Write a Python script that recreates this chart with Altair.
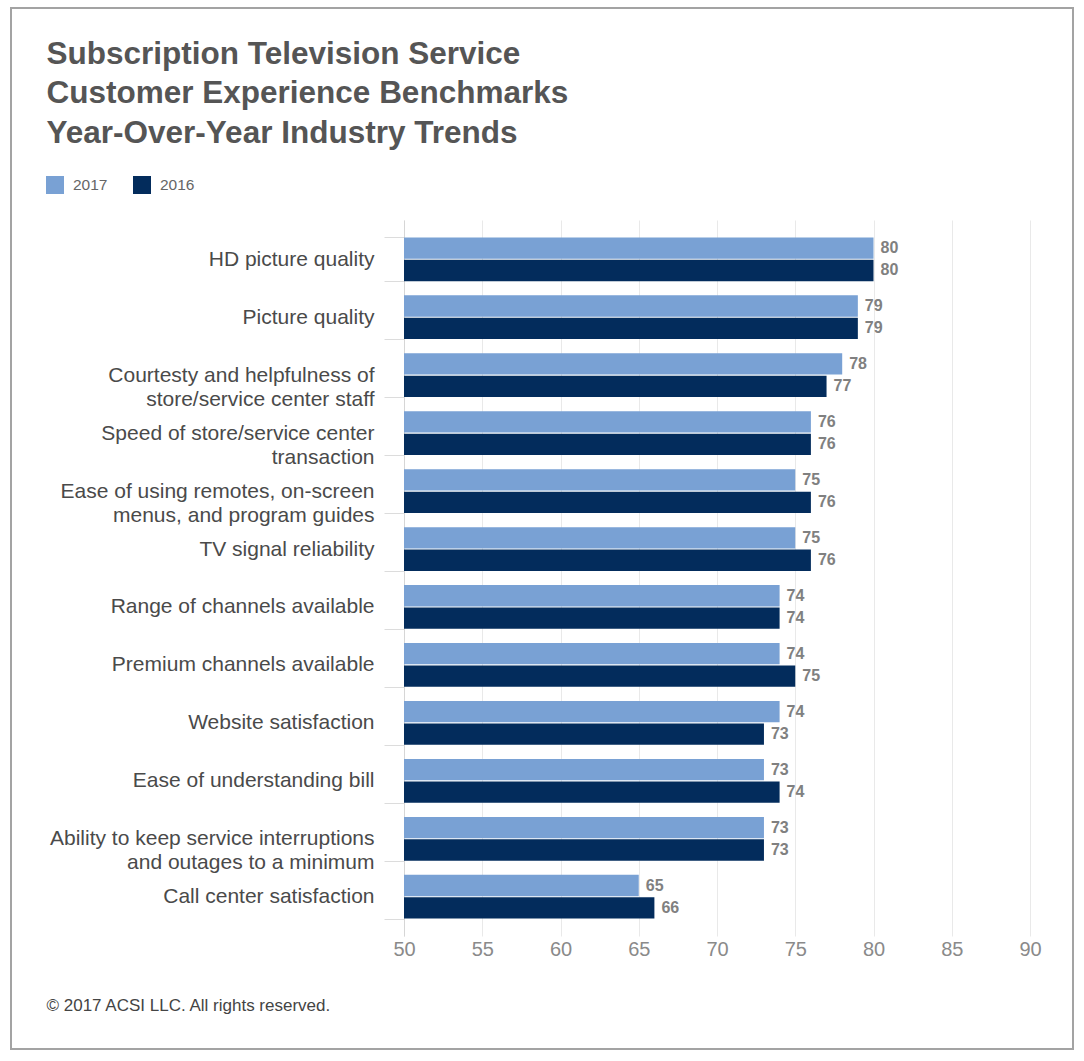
import altair as alt
import pandas as pd

# Attribute names (line breaks mark where the axis label wraps)
categories = [
    "HD picture quality",
    "Picture quality",
    "Courtesty and helpfulness of\nstore/service center staff",
    "Speed of store/service center\ntransaction",
    "Ease of using remotes, on-screen\nmenus, and program guides",
    "TV signal reliability",
    "Range of channels available",
    "Premium channels available",
    "Website satisfaction",
    "Ease of understanding bill",
    "Ability to keep service interruptions\nand outages to a minimum",
    "Call center satisfaction",
]
years = ["2017", "2016"]
scores_2017 = [80, 79, 78, 76, 75, 75, 74, 74, 74, 73, 73, 65]
scores_2016 = [80, 79, 77, 76, 76, 76, 74, 75, 73, 74, 73, 66]
x_ticks = [50, 55, 60, 65, 70, 75, 80, 85, 90]
title_lines = [
    "Subscription Television Service",
    "Customer Experience Benchmarks",
    "Year-Over-Year Industry Trends",
]
footer = "© 2017 ACSI LLC. All rights reserved."
year_colors = ["#79a1d4", "#032c5c"]

rows = []
for cat, a, b in zip(categories, scores_2017, scores_2016):
    rows.append({"item": cat, "year": "2017", "score": a})
    rows.append({"item": cat, "year": "2016", "score": b})
df = pd.DataFrame(rows)

FONT = "Liberation Sans"
W, H = 626, 716          # plot area
LEFT, TOP = 404, 220     # plot origin inside the 1084x1061 canvas

y_enc = alt.Y(
    "item:N",
    sort=categories,
    scale=alt.Scale(paddingInner=0.245, paddingOuter=0.3),
    axis=alt.Axis(
        labelExpr="split(datum.label, '\\n')",
        labelFont=FONT,
        labelFontSize=21,
        labelColor="#4a4a4a",
        labelLineHeight=24,
        labelLimit=400,
        labelPadding=10,
        tickBand="extent",
        tickSize=20,
        tickColor="#dcdcdc",
        domainColor="#d6d6d6",
        grid=False,
        title=title_lines,
        titleAngle=0,
        titleAlign="left",
        titleBaseline="alphabetic",
        titleX=46 - LEFT,
        titleY=63 - TOP,
        titleFont=FONT,
        titleFontSize=31.5,
        titleFontWeight="bold",
        titleColor="#555555",
        titleLineHeight=39.5,
    ),
)
x_enc = alt.X(
    "score:Q",
    scale=alt.Scale(domain=[50, 90], nice=False, zero=False),
    axis=alt.Axis(
        values=x_ticks,
        grid=True,
        gridColor="#e9e9e9",
        domain=False,
        ticks=False,
        labelFlush=False,
        labelFont=FONT,
        labelFontSize=20,
        labelColor="#8a8a8a",
        labelPadding=3,
        title=footer,
        titleAlign="left",
        titleBaseline="alphabetic",
        titleX=46 - LEFT,
        titleY=1010 - (TOP + H),
        titleFont=FONT,
        titleFontSize=17,
        titleFontWeight="normal",
        titleColor="#444444",
    ),
)
offset_enc = alt.YOffset("year:N", sort=years, scale=alt.Scale(paddingInner=0.05))

bars = alt.Chart(df).mark_bar().encode(
    x=x_enc,
    x2=alt.datum(50),
    y=y_enc,
    yOffset=offset_enc,
    color=alt.Color(
        "year:N",
        sort=years,
        scale=alt.Scale(domain=years, range=year_colors),
        legend=alt.Legend(
            title=None,
            orient="none",
            legendX=46 - LEFT,
            legendY=176 - TOP,
            direction="horizontal",
            symbolType="square",
            symbolSize=324,
            symbolStrokeWidth=0,
            symbolOpacity=1,
            labelFont=FONT,
            labelFontSize=15.5,
            labelColor="#666666",
            labelOffset=9,
            columnPadding=25,
        ),
    ),
)

values = alt.Chart(df).mark_text(
    align="left", baseline="middle", dx=7, font=FONT,
    fontSize=16, fontWeight="bold", color="#808080",
).encode(
    x="score:Q",
    y=alt.Y("item:N", sort=categories),
    yOffset=alt.YOffset("year:N", sort=years),
    text="score:Q",
)

# Thin grey frame around the whole graphic
frame = alt.Chart(pd.DataFrame({"k": [0]})).mark_rect(
    filled=False, stroke="#a3a3a3", strokeWidth=2
).encode(
    x=alt.value(11 - LEFT), x2=alt.value(1073 - LEFT),
    y=alt.value(8 - TOP), y2=alt.value(1049 - TOP),
)

chart = alt.layer(bars, values, frame).properties(
    width=W,
    height=H,
    autosize=alt.AutoSizeParams(type="none"),
    padding={"left": LEFT, "top": TOP, "right": 1084 - LEFT - W, "bottom": 1061 - TOP - H},
    background="white",
).configure_view(stroke=None)

chart.save("out.html", embed_options={"renderer": "svg", "actions": False})
